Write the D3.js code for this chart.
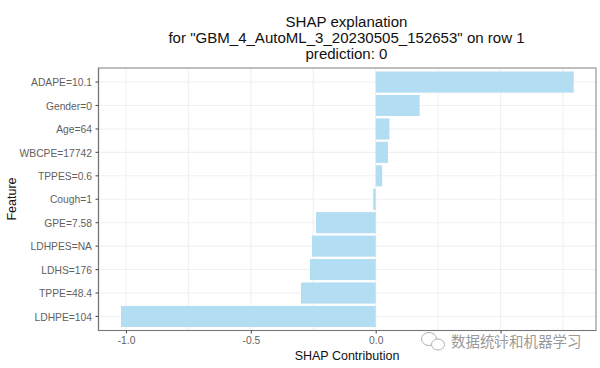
<!DOCTYPE html>
<html><head><meta charset="utf-8">
<script src="https://cdn.jsdelivr.net/npm/d3@7/dist/d3.min.js"></script>
<style>html,body{margin:0;padding:0;background:#fff}svg{display:block}text{font-family:"Liberation Sans",Arial,sans-serif}</style>
</head><body><svg id="c" width="600" height="368"></svg>
<script>
const features=["ADAPE=10.1","Gender=0","Age=64","WBCPE=17742","TPPES=0.6","Cough=1","GPE=7.58","LDHPES=NA","LDHS=176","TPPE=48.4","LDHPE=104"];
const shapValues=[0.793,0.176,0.055,0.049,0.026,-0.010,-0.239,-0.255,-0.263,-0.299,-1.02];
const majorTicks=[-1,-0.5,0,0.5];
const minorTicks=[-0.75,-0.25,0.25,0.75];
const titleLines=['SHAP explanation','for "GBM_4_AutoML_3_20230505_152653" on row 1','prediction: 0'];
const watermark="数据统计和机器学习";

const svg=d3.select("#c");
const L=98.5,R=596,T=68,B=330.5;
const x=d3.scaleLinear().domain([-1,0]).range([126,375.7]);
const y=d3.scaleBand().domain(features).range([T,B]).paddingInner(0.1).paddingOuter(0.15);
const cy=d=>y(d)+y.bandwidth()/2;
const g=svg.append("g");

g.selectAll(".gx").data(majorTicks.concat(minorTicks)).join("line")
 .attr("x1",d=>x(d)).attr("x2",d=>x(d)).attr("y1",T).attr("y2",B)
 .attr("stroke","#f0f0f0").attr("stroke-width",1.1);
g.selectAll(".gy").data(features).join("line")
 .attr("x1",L).attr("x2",R).attr("y1",cy).attr("y2",cy)
 .attr("stroke","#f0f0f0").attr("stroke-width",1.1);

g.selectAll(".bar").data(features).join("rect")
 .attr("x",(d,i)=>Math.min(x(0),x(shapValues[i])))
 .attr("width",(d,i)=>Math.abs(x(shapValues[i])-x(0)))
 .attr("y",d=>y(d)).attr("height",y.bandwidth())
 .attr("fill","#b3ddf2");

g.append("rect").attr("x",L).attr("y",T).attr("width",R-L).attr("height",B-T)
 .attr("fill","none").attr("stroke","#8a8a8a").attr("stroke-width",1.1);
g.append("path").attr("d",`M${L},${T}V${B}H${R}`).attr("fill","none").attr("stroke","#757575").attr("stroke-width",1.2);

const xAxis=d3.axisBottom(x).tickValues(majorTicks).tickFormat(d=>d3.format(".1f")(d).replace("\u2212","-")).tickSize(3).tickSizeOuter(0);
const ax=svg.append("g").attr("transform",`translate(0,${B})`).call(xAxis);
const yAxis=d3.axisLeft(y).tickSize(3).tickSizeOuter(0);
const ay=svg.append("g").attr("transform",`translate(${L},0)`).call(yAxis);
[ax,ay].forEach(a=>{a.select(".domain").remove();
 a.selectAll("line").attr("stroke","#555").attr("stroke-width",1.1);
 a.selectAll("text").attr("fill","#5f5f5f").style("font-size","10.3px").style("font-family",'"Liberation Sans",Arial,sans-serif');});
ax.selectAll("text").attr("y",6.5).attr("dy","0.71em");
ay.selectAll("text").attr("x",-6.5).attr("dy","0.4em");

svg.append("g").selectAll("text").data(titleLines).join("text")
 .attr("x",346.5).attr("y",(d,i)=>26.5+i*16.4).attr("text-anchor","middle")
 .attr("fill","#111").style("font-size","15.05px").text(d=>d);
svg.append("text").attr("x",347).attr("y",360).attr("text-anchor","middle")
 .attr("fill","#111").style("font-size","12.5px").text("SHAP Contribution");
svg.append("text").attr("transform","translate(16,199) rotate(-90)").attr("text-anchor","middle")
 .attr("fill","#111").style("font-size","12.5px").text("Feature");

const w=svg.append("g");
w.append("text").attr("x",451).attr("y",347).attr("fill","#9a9a9a")
 .attr("stroke","#fff").attr("stroke-width",2).attr("paint-order","stroke")
 .style("font-family",'"Noto Sans CJK SC"').style("font-size","14.5px").text(watermark);
const icon=w.append("g").attr("fill","#fff").attr("stroke","#b0b0b0").attr("stroke-width",1);
icon.append("ellipse").attr("cx",429).attr("cy",339).attr("rx",7.5).attr("ry",6.5);
icon.append("ellipse").attr("cx",438).attr("cy",344.5).attr("rx",6.5).attr("ry",5.5);
</script></body></html>
